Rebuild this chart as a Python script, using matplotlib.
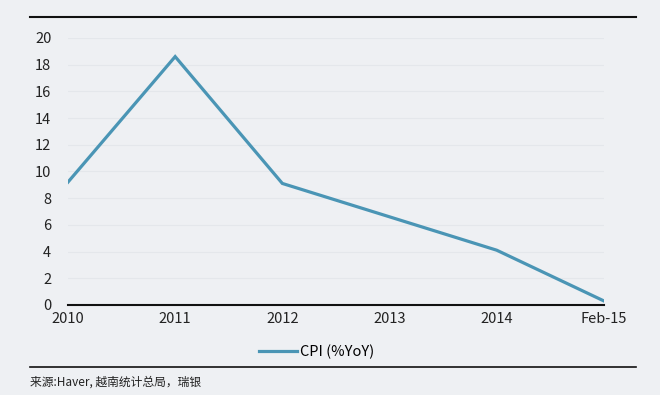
import matplotlib.pyplot as plt
from matplotlib.lines import Line2D

# data
labels = ["2010", "2011", "2012", "2013", "2014", "Feb-15"]
cpi = [9.2, 18.6, 9.1, 6.6, 4.1, 0.3]
yticks = [0, 2, 4, 6, 8, 10, 12, 14, 16, 18, 20]

bg = "#eef0f3"
blue = "#4a95b5"

plt.rcParams['font.family'] = ['Noto Sans CJK SC', 'DejaVu Sans']

fig = plt.figure(figsize=(6.6, 3.95), dpi=100, facecolor=bg)
ax = fig.add_axes([0.103, 0.228, 0.812, 0.676], facecolor=bg)

x = list(range(len(labels)))
ax.plot(x, cpi, color=blue, lw=2.3, solid_joinstyle="miter", label="CPI (%YoY)")

ax.set_xlim(0, len(labels) - 1)
ax.set_ylim(0, 20)
ax.set_xticks(x)
ax.set_xticklabels(labels)
ax.set_yticks(yticks)
ax.tick_params(axis="both", length=0, labelsize=10.5, colors="#222222")
ax.tick_params(axis="y", pad=12)
ax.tick_params(axis="x", pad=5)
ax.grid(axis="y", color="#e4e7eb", lw=0.8)
ax.set_axisbelow(True)
for s in ["top", "right", "left"]:
    ax.spines[s].set_visible(False)
ax.spines["bottom"].set_color("#111111")
ax.spines["bottom"].set_linewidth(1.5)

fig.legend(handles=[Line2D([], [], color=blue, lw=2.3)], labels=["CPI (%YoY)"],
           loc="center", bbox_to_anchor=(0.48, 0.109), frameon=False,
           fontsize=10.5, handlelength=2.6, handletextpad=0.2)

# rules top and bottom
fig.add_artist(Line2D([0.045, 0.964], [0.957, 0.957], color="#111111", lw=1.5))
fig.add_artist(Line2D([0.045, 0.964], [0.071, 0.071], color="#111111", lw=1.2))
fig.text(0.045, 0.033, "来源:Haver, 越南统计总局，瑞银", fontsize=8.5,
         color="#222222", va="center", ha="left")

fig.savefig("out.png", dpi=100, facecolor=bg)
